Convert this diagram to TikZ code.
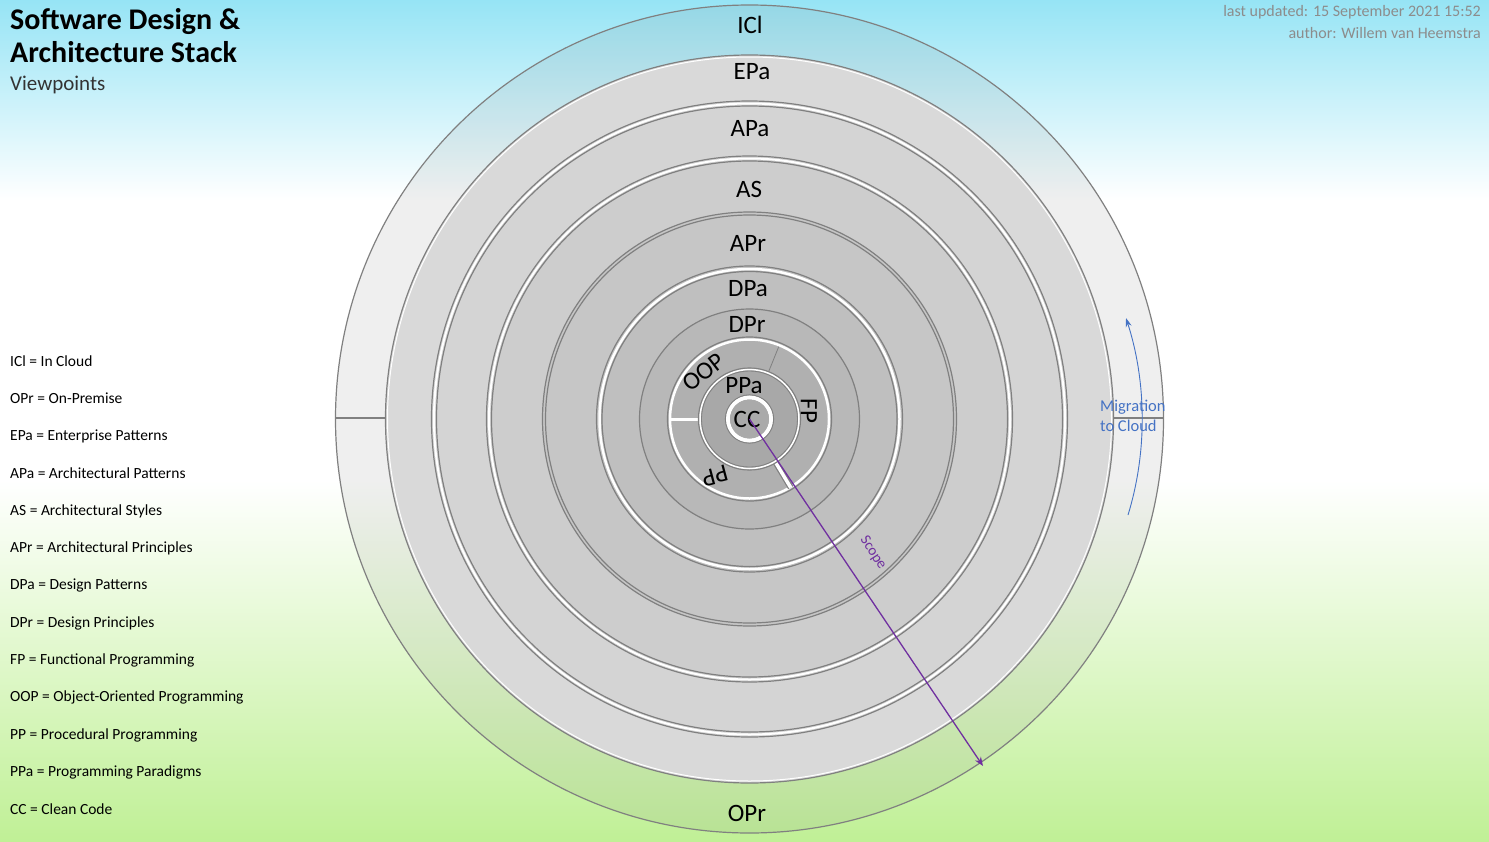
\documentclass[tikz,border=0pt]{standalone}
\usepackage{fontspec}
\setmainfont{Carlito}
\usetikzlibrary{arrows.meta,calc}
\definecolor{skyc}{RGB}{150,228,245}
\definecolor{grnc}{RGB}{192,240,150}
\definecolor{ringline}{RGB}{128,128,128}
\definecolor{migc}{RGB}{68,114,196}
\definecolor{scopec}{RGB}{112,48,160}
\tikzset{
  ring/.style={draw=ringline,line width=1.2pt},
  whiteln/.style={draw=white,line width=#1},
  lbl/.style={font=\fontsize{25}{25}\selectfont,inner sep=0pt},
  leg/.style={anchor=west,font=\fontsize{15.5}{15.5}\selectfont,inner sep=0pt}
}
\begin{document}
\begin{tikzpicture}[x=1pt,y=-1pt]
\useasboundingbox (0,0) rectangle (1489,841);
\shade[top color=skyc,bottom color=white] (0,0) rectangle (1489,200);
\fill[white] (0,200) rectangle (1489,480);
\shade[top color=white,bottom color=grnc] (0,480) rectangle (1489,841);
\coordinate (O) at (749.5,419);
% outer ring
\fill[gray,opacity=0.12] (O) circle (414);
\draw[ring] (O) circle (414);
\draw[ring] (336,418) -- (386,418);
\draw[ring] (1113,418) -- (1163,418);
% inner rings
\fill[fill={rgb,255:red,217;green,217;blue,217}] (O) circle (364);
\draw[ring] (O) circle (364);
\draw[whiteln=1pt] (O) circle (362);
\fill[fill={rgb,255:red,212;green,212;blue,212}] (O) circle (318);
\draw[ring] (O) circle (318);
\draw[whiteln=2pt] (O) circle (315.5);
\draw[ring] (O) circle (313);
\fill[fill={rgb,255:red,205;green,205;blue,205}] (O) circle (262);
\draw[ring] (O) circle (263);
\draw[whiteln=2pt] (O) circle (260.5);
\draw[ring] (O) circle (258);
\fill[fill={rgb,255:red,198;green,198;blue,198}] (O) circle (207);
\draw[ring] (O) circle (207);
\draw[ring] (O) circle (204);
\fill[fill={rgb,255:red,191;green,191;blue,191}] (O) circle (152);
\draw[ring] (O) circle (153);
\draw[whiteln=2.5pt] (O) circle (150);
\draw[ring] (O) circle (147.5);
\fill[fill={rgb,255:red,184;green,184;blue,184}] (O) circle (110);
\draw[ring] (O) circle (110);
\fill[fill={rgb,255:red,176;green,176;blue,176}] (O) circle (81);
\draw[ring] (O) circle (82);
\draw[whiteln=2.5pt] (O) circle (79.5);
% segment dividers (y axis points down: negative angles are upward)
\draw[whiteln=3pt] ($(O)+(180:50)$) -- ($(O)+(180:80)$);
\draw[ring,line width=0.8pt] ($(O)+(-68:51)$) -- ($(O)+(-68:78)$);
\draw[ring,line width=6pt] ($(O)+(59:50)$) -- ($(O)+(59:80)$);
\draw[whiteln=3.5pt] ($(O)+(59:50)$) -- ($(O)+(59:80)$);
\fill[fill={rgb,255:red,168;green,168;blue,168}] (O) circle (51);
\draw[ring] (O) circle (51);
\draw[whiteln=1.5pt] (O) circle (49.5);
\draw[ring,line width=0.8pt] (O) circle (48);
\draw[ring] (O) circle (24);
\draw[whiteln=4pt] (O) circle (21.5);
\fill[fill={rgb,255:red,170;green,170;blue,170}] (O) circle (19.5);
% labels
\node[lbl] (icl) at (750,25) {ICl};
\node[lbl] (opr) at (747,813) {OPr};
\node[lbl] (epa) at (752,72) {EPa};
\node[lbl] (apa) at (750,129) {APa};
\node[lbl] (as) at (749,189) {AS};
\node[lbl] (apr) at (748,243) {APr};
\node[lbl] (dpa) at (748,289) {DPa};
\node[lbl] (dpr) at (747,324) {DPr};
\node[lbl] (ppa) at (744,386) {PPa};
\node[lbl] (cc) at (747,419) {CC};
\node[lbl,rotate=38] (oop) at (704,372) {OOP};
\node[lbl,rotate=-90] (fp) at (809,411) {FP};
\node[lbl,rotate=195] (pp) at (715,476) {PP};
% scope arrow
\coordinate (se) at (983,766);
\draw[scopec,line width=1.3pt,-{Stealth[length=9pt,width=7pt]}] (O) -- (se);
\node[scopec,rotate=-57,font=\fontsize{15}{15}\selectfont] (scope) at (873,553) {Scope};
% migration
\coordinate (m1) at (1128,515);
\coordinate (m2) at (1126,318);
\draw[migc,line width=0.9pt,-{Stealth[length=9pt,width=6pt]}] (m1) .. controls (1148,450) and (1146,380) .. (m2);
\node[migc,align=left,anchor=west,font=\fontsize{16.5}{20}\selectfont,inner sep=0pt] (mig) at (1100,416) {Migration\\to Cloud};
% title
\node[anchor=north west,align=left,inner sep=0pt,font=\fontsize{30}{33}\selectfont\bfseries] (title) at (10,8) {Software Design \&\\Architecture Stack};
\node[anchor=north west,inner sep=0pt,font=\fontsize{21}{21}\selectfont,text=black!80] (vp) at (10,76) {Viewpoints};
\node[anchor=north east,align=right,inner sep=0pt,text=black!45,font=\fontsize{16}{22}\selectfont] (upd) at (1481,5) {last updated: 15 September 2021 15:52\\author: Willem van Heemstra};
% legend
\node[leg] (l1) at (10,361) {ICl = In Cloud};
\node[leg] (l2) at (10,398) {OPr = On-Premise};
\node[leg] (l3) at (10,436) {EPa = Enterprise Patterns};
\node[leg] (l4) at (10,473) {APa = Architectural Patterns};
\node[leg] (l5) at (10,511) {AS = Architectural Styles};
\node[leg] (l6) at (10,548) {APr = Architectural Principles};
\node[leg] (l7) at (10,585) {DPa = Design Patterns};
\node[leg] (l8) at (10,623) {DPr = Design Principles};
\node[leg] (l9) at (10,660) {FP = Functional Programming};
\node[leg] (l10) at (10,697) {OOP = Object-Oriented Programming};
\node[leg] (l11) at (10,735) {PP = Procedural Programming};
\node[leg] (l12) at (10,772) {PPa = Programming Paradigms};
\node[leg] (l13) at (10,809) {CC = Clean Code};
\end{tikzpicture}
\end{document}
